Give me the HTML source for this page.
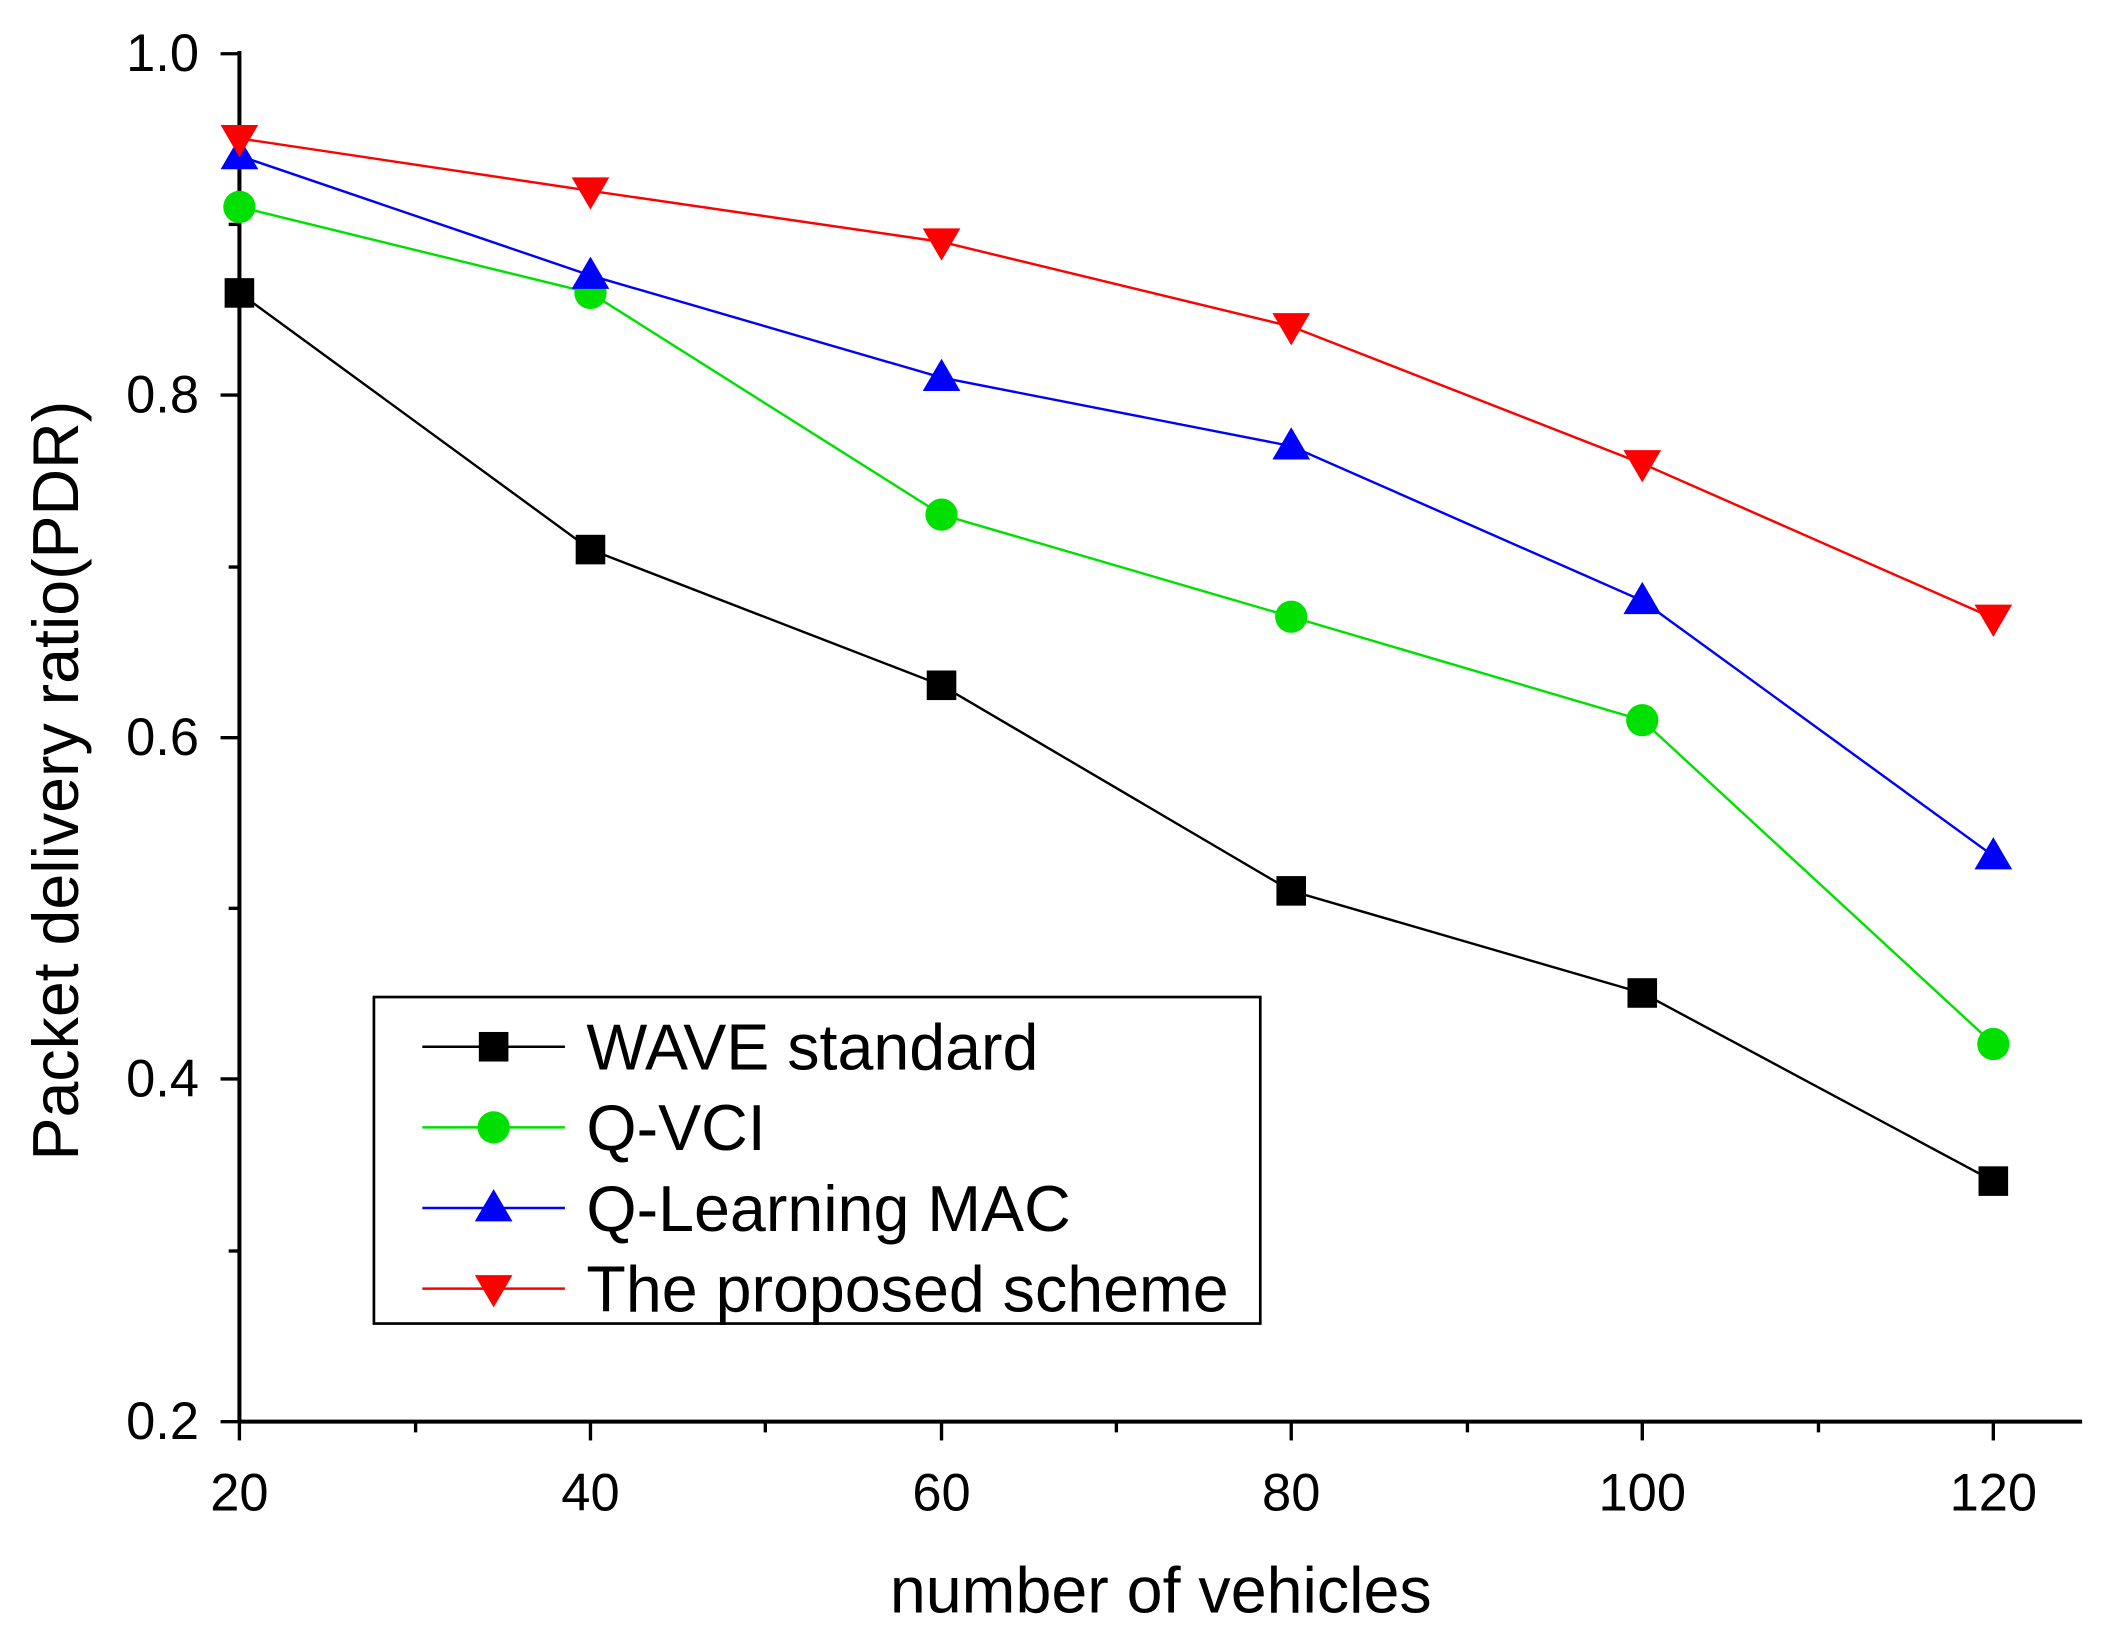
<!DOCTYPE html>
<html><head><meta charset="utf-8"><style>html,body{margin:0;padding:0;background:#fff}svg{display:block}</style></head><body>
<svg width="2109" height="1642" viewBox="0 0 1568 1222" preserveAspectRatio="none" xmlns="http://www.w3.org/2000/svg" font-family="Liberation Sans, sans-serif">
<rect width="1568" height="1222" fill="#fff"/>
<g stroke="#000" stroke-width="3" fill="none">
<line x1="178" y1="38" x2="178" y2="1058"/>
<line x1="178" y1="1058" x2="1548" y2="1058"/>
</g>
<g stroke="#000" stroke-width="2.5">
<line x1="178" y1="1058" x2="178" y2="1072"/><line x1="439" y1="1058" x2="439" y2="1072"/><line x1="700" y1="1058" x2="700" y2="1072"/><line x1="960" y1="1058" x2="960" y2="1072"/><line x1="1221" y1="1058" x2="1221" y2="1072"/><line x1="1482" y1="1058" x2="1482" y2="1072"/>
<line x1="309" y1="1058" x2="309" y2="1066"/><line x1="569" y1="1058" x2="569" y2="1066"/><line x1="830" y1="1058" x2="830" y2="1066"/><line x1="1091" y1="1058" x2="1091" y2="1066"/><line x1="1352" y1="1058" x2="1352" y2="1066"/>
<line x1="164" y1="40" x2="178" y2="40"/><line x1="164" y1="294" x2="178" y2="294"/><line x1="164" y1="549" x2="178" y2="549"/><line x1="164" y1="803" x2="178" y2="803"/><line x1="164" y1="1058" x2="178" y2="1058"/>
<line x1="170" y1="167" x2="178" y2="167"/><line x1="170" y1="422" x2="178" y2="422"/><line x1="170" y1="676" x2="178" y2="676"/><line x1="170" y1="931" x2="178" y2="931"/>
</g>
<g font-size="39" fill="#000" text-anchor="middle">
<text x="178" y="1124">20</text><text x="439" y="1124">40</text><text x="700" y="1124">60</text><text x="960" y="1124">80</text><text x="1221" y="1124">100</text><text x="1482" y="1124">120</text>
</g>
<g font-size="39" fill="#000" text-anchor="end">
<text x="148" y="53">1.0</text><text x="148" y="307">0.8</text><text x="148" y="562">0.6</text><text x="148" y="816">0.4</text><text x="148" y="1071">0.2</text>
</g>
<text x="863" y="1200" font-size="48" text-anchor="middle">number of vehicles</text>
<text transform="translate(58,581) rotate(-90)" font-size="48" text-anchor="middle">Packet delivery ratio(PDR)</text>
<g fill="none" stroke-width="1.8">
<polyline stroke="#000" points="178,218 439,409 700,510 960,663 1221,739 1482,879"/>
<polyline stroke="#00e000" points="178,154 439,218 700,383 960,459 1221,536 1482,777"/>
<polyline stroke="#0000ff" points="178,116 439,205 700,281 960,332 1221,447 1482,637"/>
<polyline stroke="#ff0000" points="178,103 439,142 700,180 960,243 1221,345 1482,460"/>
</g>
<g fill="#000"><rect x="167" y="207" width="22" height="22"/><rect x="428" y="398" width="22" height="22"/><rect x="689" y="499" width="22" height="22"/><rect x="949" y="652" width="22" height="22"/><rect x="1210" y="728" width="22" height="22"/><rect x="1471" y="868" width="22" height="22"/></g>
<g fill="#00e000"><circle cx="178" cy="154" r="12"/><circle cx="439" cy="218" r="12"/><circle cx="700" cy="383" r="12"/><circle cx="960" cy="459" r="12"/><circle cx="1221" cy="536" r="12"/><circle cx="1482" cy="777" r="12"/></g>
<g fill="#0000ff"><path d="M178,102 l14,24 h-28z"/><path d="M439,191 l14,24 h-28z"/><path d="M700,267 l14,24 h-28z"/><path d="M960,318 l14,24 h-28z"/><path d="M1221,433 l14,24 h-28z"/><path d="M1482,623 l14,24 h-28z"/></g>
<g fill="#ff0000"><path d="M178,117 l14,-24 h-28z"/><path d="M439,156 l14,-24 h-28z"/><path d="M700,194 l14,-24 h-28z"/><path d="M960,257 l14,-24 h-28z"/><path d="M1221,359 l14,-24 h-28z"/><path d="M1482,474 l14,-24 h-28z"/></g>
<rect x="278" y="742" width="659" height="243" fill="#fff" stroke="#000" stroke-width="2"/>
<g stroke-width="1.8">
<line x1="314" y1="779" x2="420" y2="779" stroke="#000"/><rect x="356" y="768" width="22" height="22" fill="#000"/>
<line x1="314" y1="839" x2="420" y2="839" stroke="#00e000"/><circle cx="367" cy="839" r="12" fill="#00e000"/>
<line x1="314" y1="899" x2="420" y2="899" stroke="#0000ff"/><path d="M367,885 l14,24 h-28z" fill="#0000ff"/>
<line x1="314" y1="959" x2="420" y2="959" stroke="#ff0000"/><path d="M367,973 l14,-24 h-28z" fill="#ff0000"/>
</g>
<g font-size="48" fill="#000">
<text x="436" y="796">WAVE standard</text><text x="436" y="856">Q-VCI</text><text x="436" y="916">Q-Learning MAC</text><text x="436" y="976">The proposed scheme</text>
</g>
</svg>
</body></html>
